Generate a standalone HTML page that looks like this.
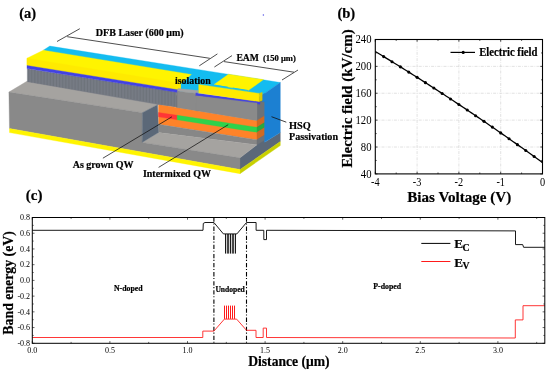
<!DOCTYPE html>
<html><head><meta charset="utf-8"><style>
html,body{margin:0;padding:0;background:#fff;}
svg{display:block;}
text[font-weight="bold"]{stroke:#000;stroke-width:0.2px;}
</style></head><body>
<svg width="550" height="372" viewBox="0 0 550 372" font-family="'Liberation Serif', 'Times New Roman', serif">
<rect width="550" height="372" fill="#fff"/>
<polygon points="49.80,46.10 280.30,82.52 262.30,95.20 200.00,93.00 176.00,91.00 43.30,50.20" fill="#14bcf0" stroke="#14bcf0" stroke-width="0.35" stroke-linejoin="round" />
<polygon points="240.00,157.85 257.00,144.81 257.00,98.00 264.80,93.50 264.80,142.30 280.30,132.50 280.30,141.50 240.00,169.53" fill="#5b6878" stroke="#5b6878" stroke-width="0.35" stroke-linejoin="round" />
<polygon points="240.00,169.53 280.30,141.50 280.30,145.50 240.00,173.63" fill="#c8d000" stroke="#c8d000" stroke-width="0.35" stroke-linejoin="round" />
<polygon points="27.30,81.00 160.00,103.06 157.60,104.70 142.40,112.66 8.90,92.10" fill="#a5a3a0" stroke="#a5a3a0" stroke-width="0.35" stroke-linejoin="round" />
<polygon points="158.50,102.50 176.50,95.43 257.00,100.00 257.00,120.56 158.50,104.50" fill="#8a8a8a" stroke="#8a8a8a" stroke-width="0.35" stroke-linejoin="round" />
<polygon points="158.50,104.50 257.00,120.56 257.00,139.79 158.50,124.33" fill="#ff8329" stroke="#ff8329" stroke-width="0.35" stroke-linejoin="round" />
<polygon points="158.50,112.53 177.20,115.33 177.20,119.77 158.50,116.83" fill="#ff3636" stroke="#ff3636" stroke-width="0.35" stroke-linejoin="round" />
<polygon points="177.20,115.33 257.00,127.30 257.00,132.29 177.20,119.77" fill="#2fd24b" stroke="#2fd24b" stroke-width="0.35" stroke-linejoin="round" />
<polygon points="158.50,124.33 257.00,139.79 257.00,144.81 158.50,132.50" fill="#878787" stroke="#878787" stroke-width="0.35" stroke-linejoin="round" />
<polygon points="257.00,104.50 264.60,99.80 264.60,115.86 257.00,120.56" fill="#6d7277" stroke="#6d7277" stroke-width="0.35" stroke-linejoin="round" />
<polygon points="257.00,120.56 264.60,115.86 264.60,122.60 257.00,127.30" fill="#cf6a22" stroke="#cf6a22" stroke-width="0.35" stroke-linejoin="round" />
<polygon points="257.00,127.30 264.60,122.60 264.60,127.59 257.00,132.29" fill="#27a93e" stroke="#27a93e" stroke-width="0.35" stroke-linejoin="round" />
<polygon points="257.00,132.29 264.60,127.59 264.60,135.09 257.00,139.79" fill="#cf6a22" stroke="#cf6a22" stroke-width="0.35" stroke-linejoin="round" />
<polygon points="257.00,139.79 264.60,135.09 264.60,140.11 257.00,144.81" fill="#6d7277" stroke="#6d7277" stroke-width="0.35" stroke-linejoin="round" />
<polygon points="262.20,95.20 280.30,82.52 280.30,132.50 264.60,142.30 264.60,101.80 262.20,101.80" fill="#1c80d2" stroke="#1c80d2" stroke-width="0.35" stroke-linejoin="round" />
<polygon points="27.30,68.65 176.70,91.95 176.70,106.65 158.50,104.50 27.30,81.70" fill="#767b84" stroke="#767b84" stroke-width="0.35" stroke-linejoin="round" />
<line x1="28.60" y1="68.85" x2="28.60" y2="81.92" stroke="#6c7178" stroke-width="0.8"/>
<line x1="31.70" y1="69.33" x2="31.70" y2="82.43" stroke="#6c7178" stroke-width="0.8"/>
<line x1="34.80" y1="69.82" x2="34.80" y2="82.95" stroke="#6c7178" stroke-width="0.8"/>
<line x1="37.90" y1="70.30" x2="37.90" y2="83.47" stroke="#6c7178" stroke-width="0.8"/>
<line x1="41.00" y1="70.78" x2="41.00" y2="83.99" stroke="#6c7178" stroke-width="0.8"/>
<line x1="44.10" y1="71.27" x2="44.10" y2="84.51" stroke="#6c7178" stroke-width="0.8"/>
<line x1="47.20" y1="71.75" x2="47.20" y2="85.02" stroke="#6c7178" stroke-width="0.8"/>
<line x1="50.30" y1="72.23" x2="50.30" y2="85.54" stroke="#6c7178" stroke-width="0.8"/>
<line x1="53.40" y1="72.72" x2="53.40" y2="86.06" stroke="#6c7178" stroke-width="0.8"/>
<line x1="56.50" y1="73.20" x2="56.50" y2="86.58" stroke="#6c7178" stroke-width="0.8"/>
<line x1="59.60" y1="73.69" x2="59.60" y2="87.09" stroke="#6c7178" stroke-width="0.8"/>
<line x1="62.70" y1="74.17" x2="62.70" y2="87.61" stroke="#6c7178" stroke-width="0.8"/>
<line x1="65.80" y1="74.65" x2="65.80" y2="88.13" stroke="#6c7178" stroke-width="0.8"/>
<line x1="68.90" y1="75.14" x2="68.90" y2="88.65" stroke="#6c7178" stroke-width="0.8"/>
<line x1="72.00" y1="75.62" x2="72.00" y2="89.16" stroke="#6c7178" stroke-width="0.8"/>
<line x1="75.10" y1="76.10" x2="75.10" y2="89.68" stroke="#6c7178" stroke-width="0.8"/>
<line x1="78.20" y1="76.59" x2="78.20" y2="90.20" stroke="#6c7178" stroke-width="0.8"/>
<line x1="81.30" y1="77.07" x2="81.30" y2="90.72" stroke="#6c7178" stroke-width="0.8"/>
<line x1="84.40" y1="77.55" x2="84.40" y2="91.24" stroke="#6c7178" stroke-width="0.8"/>
<line x1="87.50" y1="78.04" x2="87.50" y2="91.75" stroke="#6c7178" stroke-width="0.8"/>
<line x1="90.60" y1="78.52" x2="90.60" y2="92.27" stroke="#6c7178" stroke-width="0.8"/>
<line x1="93.70" y1="79.01" x2="93.70" y2="92.79" stroke="#6c7178" stroke-width="0.8"/>
<line x1="96.80" y1="79.49" x2="96.80" y2="93.31" stroke="#6c7178" stroke-width="0.8"/>
<line x1="99.90" y1="79.97" x2="99.90" y2="93.82" stroke="#6c7178" stroke-width="0.8"/>
<line x1="103.00" y1="80.46" x2="103.00" y2="94.34" stroke="#6c7178" stroke-width="0.8"/>
<line x1="106.10" y1="80.94" x2="106.10" y2="94.86" stroke="#6c7178" stroke-width="0.8"/>
<line x1="109.20" y1="81.42" x2="109.20" y2="95.38" stroke="#6c7178" stroke-width="0.8"/>
<line x1="112.30" y1="81.91" x2="112.30" y2="95.89" stroke="#6c7178" stroke-width="0.8"/>
<line x1="115.40" y1="82.39" x2="115.40" y2="96.41" stroke="#6c7178" stroke-width="0.8"/>
<line x1="118.50" y1="82.87" x2="118.50" y2="96.93" stroke="#6c7178" stroke-width="0.8"/>
<line x1="121.60" y1="83.36" x2="121.60" y2="97.45" stroke="#6c7178" stroke-width="0.8"/>
<line x1="124.70" y1="83.84" x2="124.70" y2="97.97" stroke="#6c7178" stroke-width="0.8"/>
<line x1="127.80" y1="84.32" x2="127.80" y2="98.48" stroke="#6c7178" stroke-width="0.8"/>
<line x1="130.90" y1="84.81" x2="130.90" y2="99.00" stroke="#6c7178" stroke-width="0.8"/>
<line x1="134.00" y1="85.29" x2="134.00" y2="99.52" stroke="#6c7178" stroke-width="0.8"/>
<line x1="137.10" y1="85.78" x2="137.10" y2="100.04" stroke="#6c7178" stroke-width="0.8"/>
<line x1="140.20" y1="86.26" x2="140.20" y2="100.55" stroke="#6c7178" stroke-width="0.8"/>
<line x1="143.30" y1="86.74" x2="143.30" y2="101.07" stroke="#6c7178" stroke-width="0.8"/>
<line x1="146.40" y1="87.23" x2="146.40" y2="101.59" stroke="#6c7178" stroke-width="0.8"/>
<line x1="149.50" y1="87.71" x2="149.50" y2="102.11" stroke="#6c7178" stroke-width="0.8"/>
<line x1="152.60" y1="88.19" x2="152.60" y2="102.63" stroke="#6c7178" stroke-width="0.8"/>
<line x1="155.70" y1="88.68" x2="155.70" y2="103.14" stroke="#6c7178" stroke-width="0.8"/>
<line x1="158.80" y1="89.16" x2="158.80" y2="103.66" stroke="#6c7178" stroke-width="0.8"/>
<line x1="161.90" y1="89.64" x2="161.90" y2="104.18" stroke="#6c7178" stroke-width="0.8"/>
<line x1="165.00" y1="90.13" x2="165.00" y2="104.70" stroke="#6c7178" stroke-width="0.8"/>
<line x1="168.10" y1="90.61" x2="168.10" y2="105.21" stroke="#6c7178" stroke-width="0.8"/>
<line x1="171.20" y1="91.10" x2="171.20" y2="105.73" stroke="#6c7178" stroke-width="0.8"/>
<line x1="174.30" y1="91.58" x2="174.30" y2="106.25" stroke="#6c7178" stroke-width="0.8"/>
<polygon points="176.70,91.95 178.50,90.75 178.50,106.26 176.70,107.47" fill="#6b6f75" stroke="#6b6f75" stroke-width="0.35" stroke-linejoin="round" />
<polygon points="43.30,50.20 191.40,74.49 180.50,84.00 180.50,90.21 27.00,65.50 27.00,58.20" fill="#fff400" stroke="#fff400" stroke-width="0.35" stroke-linejoin="round" />
<polygon points="27.00,58.20 180.50,83.22 180.50,90.21 27.00,65.50" fill="#ffea00" stroke="#ffea00" stroke-width="0.35" stroke-linejoin="round" />
<polygon points="27.00,65.50 180.50,90.21 178.30,92.50 27.00,68.60" fill="#4242e2" stroke="#4242e2" stroke-width="0.35" stroke-linejoin="round" />
<polygon points="178.20,88.50 198.40,90.60 197.40,93.60 177.30,91.30" fill="#a3a3a3" stroke="#a3a3a3" stroke-width="0.35" stroke-linejoin="round" />
<polygon points="177.30,91.30 197.40,93.60 198.50,111.02 177.30,107.56" fill="#8a8a8a" stroke="#8a8a8a" stroke-width="0.35" stroke-linejoin="round" />
<polygon points="228.50,74.20 263.50,79.60 248.20,90.60 214.00,84.60" fill="#fff400" stroke="#fff400" stroke-width="0.35" stroke-linejoin="round" />
<polygon points="195.80,92.90 260.00,101.50 260.00,104.20 195.80,96.00" fill="#4242e2" stroke="#4242e2" stroke-width="0.35" stroke-linejoin="round" />
<polygon points="198.70,84.40 259.20,93.40 259.20,101.60 198.70,92.90" fill="#ffea00" stroke="#ffea00" stroke-width="0.35" stroke-linejoin="round" />
<polygon points="259.20,93.40 262.20,92.20 262.20,100.40 259.20,101.60" fill="#d9ca00" stroke="#d9ca00" stroke-width="0.35" stroke-linejoin="round" />
<line x1="214.50" y1="85.20" x2="227.80" y2="87.30" stroke="#14bcf0" stroke-width="1.0" />
<line x1="232.90" y1="88.10" x2="248.20" y2="90.50" stroke="#14bcf0" stroke-width="1.0" />
<polygon points="195.80,95.80 257.00,103.00 257.00,120.56 195.80,110.58" fill="#8a8a8a" stroke="#8a8a8a" stroke-width="0.35" stroke-linejoin="round" />
<polygon points="142.20,142.40 158.50,132.50 257.00,144.81 240.00,157.85" fill="#a5a3a0" stroke="#a5a3a0" stroke-width="0.35" stroke-linejoin="round" />
<polygon points="8.90,92.10 142.40,112.66 142.20,142.40 240.00,157.85 240.00,169.53 9.50,128.50" fill="#898989" stroke="#898989" stroke-width="0.35" stroke-linejoin="round" />
<polygon points="142.40,112.66 157.60,104.70 158.50,132.50 142.20,142.40" fill="#5b6878" stroke="#5b6878" stroke-width="0.35" stroke-linejoin="round" />
<polygon points="9.50,128.50 240.00,169.53 240.00,173.63 9.50,132.60" fill="#fff400" stroke="#fff400" stroke-width="0.35" stroke-linejoin="round" />
<line x1="57.00" y1="41.50" x2="79.80" y2="28.70" stroke="#222" stroke-width="0.8" />
<line x1="67.20" y1="36.70" x2="209.80" y2="58.30" stroke="#222" stroke-width="0.8" />
<line x1="199.30" y1="65.80" x2="217.40" y2="53.90" stroke="#222" stroke-width="0.8" />
<line x1="214.40" y1="67.00" x2="232.00" y2="55.60" stroke="#222" stroke-width="0.8" />
<line x1="224.00" y1="61.60" x2="294.00" y2="72.20" stroke="#222" stroke-width="0.8" />
<line x1="282.00" y1="80.00" x2="298.00" y2="70.00" stroke="#222" stroke-width="0.8" />
<line x1="171.90" y1="116.80" x2="102.90" y2="158.20" stroke="#111" stroke-width="0.75" />
<line x1="228.20" y1="124.70" x2="158.60" y2="167.40" stroke="#111" stroke-width="0.75" />
<line x1="271.50" y1="116.70" x2="286.30" y2="122.20" stroke="#111" stroke-width="0.8" />
<circle cx="263.4" cy="15.1" r="0.75" fill="#5a5ae6"/>
<g font-family="'Liberation Serif', 'Times New Roman', serif">
<text x="19.20" y="18.20" font-size="14.5" font-weight="bold" text-anchor="start" fill="#000" >(a)</text>
<text x="95.80" y="36.30" font-size="10.05" font-weight="bold" text-anchor="start" fill="#000" >DFB Laser (600 μm)</text>
<text x="236.40" y="61.00" font-size="9.7" font-weight="bold" text-anchor="start" fill="#000" >EAM</text>
<text x="263.00" y="61.00" font-size="8.6" font-weight="bold" text-anchor="start" fill="#000" >(150 μm)</text>
<text x="175.00" y="84.20" font-size="9.9" font-weight="bold" text-anchor="start" fill="#000" >isolation</text>
<text x="289.10" y="129.00" font-size="10.3" font-weight="bold" text-anchor="start" fill="#000" >HSQ</text>
<text x="289.10" y="140.40" font-size="10.15" font-weight="bold" text-anchor="start" fill="#000" >Passivation</text>
<text x="72.70" y="167.80" font-size="10" font-weight="bold" text-anchor="start" fill="#000" >As grown QW</text>
<text x="142.90" y="176.70" font-size="10" font-weight="bold" text-anchor="start" fill="#000" >Intermixed QW</text>
</g>
<line x1="417.10" y1="39.50" x2="417.10" y2="173.90" stroke="#cfcfcf" stroke-width="0.6" stroke-dasharray="3,1.2,0.8,1.2"/>
<line x1="458.90" y1="39.50" x2="458.90" y2="173.90" stroke="#cfcfcf" stroke-width="0.6" stroke-dasharray="3,1.2,0.8,1.2"/>
<line x1="500.70" y1="39.50" x2="500.70" y2="173.90" stroke="#cfcfcf" stroke-width="0.6" stroke-dasharray="3,1.2,0.8,1.2"/>
<line x1="375.30" y1="147.02" x2="542.50" y2="147.02" stroke="#cfcfcf" stroke-width="0.6" stroke-dasharray="3,1.2,0.8,1.2"/>
<line x1="375.30" y1="120.14" x2="542.50" y2="120.14" stroke="#cfcfcf" stroke-width="0.6" stroke-dasharray="3,1.2,0.8,1.2"/>
<line x1="375.30" y1="93.26" x2="542.50" y2="93.26" stroke="#cfcfcf" stroke-width="0.6" stroke-dasharray="3,1.2,0.8,1.2"/>
<line x1="375.30" y1="66.38" x2="542.50" y2="66.38" stroke="#cfcfcf" stroke-width="0.6" stroke-dasharray="3,1.2,0.8,1.2"/>
<polyline points="375.30,51.52 377.39,52.78 379.48,54.04 381.57,55.31 383.66,56.58 385.75,57.85 387.84,59.13 389.93,60.41 392.02,61.69 394.11,62.98 396.20,64.27 398.29,65.56 400.38,66.86 402.47,68.16 404.56,69.46 406.65,70.77 408.74,72.08 410.83,73.39 412.92,74.71 415.01,76.03 417.10,77.35 419.19,78.67 421.28,80.00 423.37,81.34 425.46,82.67 427.55,84.01 429.64,85.35 431.73,86.70 433.82,88.04 435.91,89.40 438.00,90.75 440.09,92.11 442.18,93.47 444.27,94.83 446.36,96.20 448.45,97.57 450.54,98.95 452.63,100.32 454.72,101.70 456.81,103.09 458.90,104.48 460.99,105.87 463.08,107.26 465.17,108.66 467.26,110.06 469.35,111.46 471.44,112.87 473.53,114.28 475.62,115.69 477.71,117.10 479.80,118.52 481.89,119.95 483.98,121.37 486.07,122.80 488.16,124.23 490.25,125.67 492.34,127.11 494.43,128.55 496.52,130.00 498.61,131.44 500.70,132.90 502.79,134.35 504.88,135.81 506.97,137.27 509.06,138.74 511.15,140.20 513.24,141.67 515.33,143.15 517.42,144.63 519.51,146.11 521.60,147.59 523.69,149.08 525.78,150.57 527.87,152.06 529.96,153.56 532.05,155.06 534.14,156.56 536.23,158.07 538.32,159.58 540.41,161.09 542.50,162.61" fill="none" stroke="#000" stroke-width="1.3"/>
<circle cx="383.66" cy="56.58" r="1.55" fill="#000"/>
<circle cx="392.02" cy="61.69" r="1.55" fill="#000"/>
<circle cx="400.38" cy="66.86" r="1.55" fill="#000"/>
<circle cx="408.74" cy="72.08" r="1.55" fill="#000"/>
<circle cx="417.10" cy="77.35" r="1.55" fill="#000"/>
<circle cx="425.46" cy="82.67" r="1.55" fill="#000"/>
<circle cx="433.82" cy="88.04" r="1.55" fill="#000"/>
<circle cx="442.18" cy="93.47" r="1.55" fill="#000"/>
<circle cx="450.54" cy="98.95" r="1.55" fill="#000"/>
<circle cx="458.90" cy="104.48" r="1.55" fill="#000"/>
<circle cx="467.26" cy="110.06" r="1.55" fill="#000"/>
<circle cx="475.62" cy="115.69" r="1.55" fill="#000"/>
<circle cx="483.98" cy="121.37" r="1.55" fill="#000"/>
<circle cx="492.34" cy="127.11" r="1.55" fill="#000"/>
<circle cx="500.70" cy="132.90" r="1.55" fill="#000"/>
<circle cx="509.06" cy="138.74" r="1.55" fill="#000"/>
<circle cx="517.42" cy="144.63" r="1.55" fill="#000"/>
<circle cx="525.78" cy="150.57" r="1.55" fill="#000"/>
<circle cx="534.14" cy="156.56" r="1.55" fill="#000"/>
<line x1="375.30" y1="173.90" x2="375.30" y2="171.70" stroke="#000" stroke-width="0.7" />
<line x1="375.30" y1="39.50" x2="375.30" y2="41.70" stroke="#000" stroke-width="0.7" />
<line x1="396.20" y1="173.90" x2="396.20" y2="172.50" stroke="#000" stroke-width="0.7" />
<line x1="396.20" y1="39.50" x2="396.20" y2="40.90" stroke="#000" stroke-width="0.7" />
<line x1="417.10" y1="173.90" x2="417.10" y2="171.70" stroke="#000" stroke-width="0.7" />
<line x1="417.10" y1="39.50" x2="417.10" y2="41.70" stroke="#000" stroke-width="0.7" />
<line x1="438.00" y1="173.90" x2="438.00" y2="172.50" stroke="#000" stroke-width="0.7" />
<line x1="438.00" y1="39.50" x2="438.00" y2="40.90" stroke="#000" stroke-width="0.7" />
<line x1="458.90" y1="173.90" x2="458.90" y2="171.70" stroke="#000" stroke-width="0.7" />
<line x1="458.90" y1="39.50" x2="458.90" y2="41.70" stroke="#000" stroke-width="0.7" />
<line x1="479.80" y1="173.90" x2="479.80" y2="172.50" stroke="#000" stroke-width="0.7" />
<line x1="479.80" y1="39.50" x2="479.80" y2="40.90" stroke="#000" stroke-width="0.7" />
<line x1="500.70" y1="173.90" x2="500.70" y2="171.70" stroke="#000" stroke-width="0.7" />
<line x1="500.70" y1="39.50" x2="500.70" y2="41.70" stroke="#000" stroke-width="0.7" />
<line x1="521.60" y1="173.90" x2="521.60" y2="172.50" stroke="#000" stroke-width="0.7" />
<line x1="521.60" y1="39.50" x2="521.60" y2="40.90" stroke="#000" stroke-width="0.7" />
<line x1="542.50" y1="173.90" x2="542.50" y2="171.70" stroke="#000" stroke-width="0.7" />
<line x1="542.50" y1="39.50" x2="542.50" y2="41.70" stroke="#000" stroke-width="0.7" />
<line x1="375.30" y1="173.90" x2="377.50" y2="173.90" stroke="#000" stroke-width="0.7" />
<line x1="542.50" y1="173.90" x2="540.30" y2="173.90" stroke="#000" stroke-width="0.7" />
<line x1="375.30" y1="160.46" x2="376.70" y2="160.46" stroke="#000" stroke-width="0.7" />
<line x1="542.50" y1="160.46" x2="541.10" y2="160.46" stroke="#000" stroke-width="0.7" />
<line x1="375.30" y1="147.02" x2="377.50" y2="147.02" stroke="#000" stroke-width="0.7" />
<line x1="542.50" y1="147.02" x2="540.30" y2="147.02" stroke="#000" stroke-width="0.7" />
<line x1="375.30" y1="133.58" x2="376.70" y2="133.58" stroke="#000" stroke-width="0.7" />
<line x1="542.50" y1="133.58" x2="541.10" y2="133.58" stroke="#000" stroke-width="0.7" />
<line x1="375.30" y1="120.14" x2="377.50" y2="120.14" stroke="#000" stroke-width="0.7" />
<line x1="542.50" y1="120.14" x2="540.30" y2="120.14" stroke="#000" stroke-width="0.7" />
<line x1="375.30" y1="106.70" x2="376.70" y2="106.70" stroke="#000" stroke-width="0.7" />
<line x1="542.50" y1="106.70" x2="541.10" y2="106.70" stroke="#000" stroke-width="0.7" />
<line x1="375.30" y1="93.26" x2="377.50" y2="93.26" stroke="#000" stroke-width="0.7" />
<line x1="542.50" y1="93.26" x2="540.30" y2="93.26" stroke="#000" stroke-width="0.7" />
<line x1="375.30" y1="79.82" x2="376.70" y2="79.82" stroke="#000" stroke-width="0.7" />
<line x1="542.50" y1="79.82" x2="541.10" y2="79.82" stroke="#000" stroke-width="0.7" />
<line x1="375.30" y1="66.38" x2="377.50" y2="66.38" stroke="#000" stroke-width="0.7" />
<line x1="542.50" y1="66.38" x2="540.30" y2="66.38" stroke="#000" stroke-width="0.7" />
<line x1="375.30" y1="52.94" x2="376.70" y2="52.94" stroke="#000" stroke-width="0.7" />
<line x1="542.50" y1="52.94" x2="541.10" y2="52.94" stroke="#000" stroke-width="0.7" />
<line x1="375.30" y1="39.50" x2="377.50" y2="39.50" stroke="#000" stroke-width="0.7" />
<line x1="542.50" y1="39.50" x2="540.30" y2="39.50" stroke="#000" stroke-width="0.7" />
<rect x="375.3" y="39.5" width="167.2" height="134.4" fill="none" stroke="#000" stroke-width="1.1"/>
<line x1="450.50" y1="52.40" x2="475.00" y2="52.40" stroke="#000" stroke-width="1.2" />
<circle cx="463.2" cy="52.4" r="1.55" fill="#000"/>
<g font-family="'Liberation Serif', 'Times New Roman', serif">
<text x="479.20" y="56.00" font-size="11.9" font-weight="bold" text-anchor="start" fill="#000" textLength="58.3" lengthAdjust="spacingAndGlyphs">Electric field</text>
<text x="375.30" y="186.30" font-size="12.0" font-weight="normal" text-anchor="middle" fill="#000" textLength="8.58" lengthAdjust="spacingAndGlyphs">-4</text>
<text x="417.10" y="186.30" font-size="12.0" font-weight="normal" text-anchor="middle" fill="#000" textLength="8.58" lengthAdjust="spacingAndGlyphs">-3</text>
<text x="458.90" y="186.30" font-size="12.0" font-weight="normal" text-anchor="middle" fill="#000" textLength="8.58" lengthAdjust="spacingAndGlyphs">-2</text>
<text x="500.70" y="186.30" font-size="12.0" font-weight="normal" text-anchor="middle" fill="#000" textLength="8.58" lengthAdjust="spacingAndGlyphs">-1</text>
<text x="542.50" y="186.30" font-size="12.0" font-weight="normal" text-anchor="middle" fill="#000" textLength="5.15" lengthAdjust="spacingAndGlyphs">0</text>
<text x="371.50" y="177.80" font-size="12.4" font-weight="normal" text-anchor="end" fill="#000" textLength="10.70" lengthAdjust="spacingAndGlyphs">40</text>
<text x="371.50" y="150.92" font-size="12.4" font-weight="normal" text-anchor="end" fill="#000" textLength="10.70" lengthAdjust="spacingAndGlyphs">80</text>
<text x="371.50" y="124.04" font-size="12.4" font-weight="normal" text-anchor="end" fill="#000" textLength="16.05" lengthAdjust="spacingAndGlyphs">120</text>
<text x="371.50" y="97.16" font-size="12.4" font-weight="normal" text-anchor="end" fill="#000" textLength="16.05" lengthAdjust="spacingAndGlyphs">160</text>
<text x="371.50" y="70.28" font-size="12.4" font-weight="normal" text-anchor="end" fill="#000" textLength="16.05" lengthAdjust="spacingAndGlyphs">200</text>
<text x="371.50" y="43.40" font-size="12.4" font-weight="normal" text-anchor="end" fill="#000" textLength="16.05" lengthAdjust="spacingAndGlyphs">240</text>
<text x="407.30" y="202.20" font-size="15.1" font-weight="bold" text-anchor="start" fill="#000" >Bias Voltage (V)</text>
<text transform="translate(352.2,98.5) rotate(-90)" font-size="15" font-weight="bold" text-anchor="middle">Electric field (kV/cm)</text>
<text x="337.40" y="18.30" font-size="14.6" font-weight="bold" text-anchor="start" fill="#000" >(b)</text>
</g>
<line x1="213.90" y1="217.50" x2="213.90" y2="343.30" stroke="#000" stroke-width="1.1" stroke-dasharray="4.3,1.6,1.1,2.1"/>
<line x1="246.50" y1="217.50" x2="246.50" y2="343.30" stroke="#000" stroke-width="1.1" stroke-dasharray="4.3,1.6,1.1,2.1"/>
<polyline points="32.30,230.30 203.00,230.30 203.30,223.40 205.00,222.50 213.90,222.50 223.40,233.90 236.90,233.90 246.50,222.50 256.10,222.50 256.10,230.30 263.80,230.30 263.80,239.60 266.50,239.60 266.50,230.30 515.50,230.90 515.50,244.60 522.70,244.60 523.60,247.30 544.80,247.30" fill="none" stroke="#000" stroke-width="0.9"/>
<line x1="225.50" y1="234.00" x2="225.50" y2="253.60" stroke="#000" stroke-width="0.9" />
<line x1="227.30" y1="234.00" x2="227.30" y2="253.60" stroke="#000" stroke-width="0.9" />
<line x1="228.70" y1="234.00" x2="228.70" y2="253.60" stroke="#000" stroke-width="0.9" />
<line x1="230.50" y1="234.00" x2="230.50" y2="253.60" stroke="#000" stroke-width="0.9" />
<line x1="232.30" y1="234.00" x2="232.30" y2="253.60" stroke="#000" stroke-width="0.9" />
<line x1="233.70" y1="234.00" x2="233.70" y2="253.60" stroke="#000" stroke-width="0.9" />
<line x1="235.50" y1="234.00" x2="235.50" y2="253.60" stroke="#000" stroke-width="0.9" />
<polyline points="32.30,337.50 202.80,337.50 202.80,331.10 213.90,331.10 224.40,319.10 236.60,319.10 246.50,330.30 256.00,330.30 256.00,337.50 263.20,337.50 263.20,328.10 266.50,328.10 266.50,337.50 515.30,338.00 515.30,319.90 523.00,319.90 523.00,305.70 544.80,305.70" fill="none" stroke="#ff2020" stroke-width="0.9"/>
<line x1="224.50" y1="305.60" x2="224.50" y2="318.90" stroke="#ff1a1a" stroke-width="1.0" />
<line x1="226.50" y1="305.60" x2="226.50" y2="318.90" stroke="#ff1a1a" stroke-width="1.0" />
<line x1="228.50" y1="305.60" x2="228.50" y2="318.90" stroke="#ff1a1a" stroke-width="1.0" />
<line x1="230.50" y1="305.60" x2="230.50" y2="318.90" stroke="#ff1a1a" stroke-width="1.0" />
<line x1="232.50" y1="305.60" x2="232.50" y2="318.90" stroke="#ff1a1a" stroke-width="1.0" />
<line x1="234.50" y1="305.60" x2="234.50" y2="318.90" stroke="#ff1a1a" stroke-width="1.0" />
<line x1="32.30" y1="343.30" x2="32.30" y2="341.10" stroke="#000" stroke-width="0.6" />
<line x1="32.30" y1="217.50" x2="32.30" y2="219.70" stroke="#000" stroke-width="0.6" />
<line x1="71.10" y1="343.30" x2="71.10" y2="341.90" stroke="#000" stroke-width="0.6" />
<line x1="71.10" y1="217.50" x2="71.10" y2="218.90" stroke="#000" stroke-width="0.6" />
<line x1="109.90" y1="343.30" x2="109.90" y2="341.10" stroke="#000" stroke-width="0.6" />
<line x1="109.90" y1="217.50" x2="109.90" y2="219.70" stroke="#000" stroke-width="0.6" />
<line x1="148.70" y1="343.30" x2="148.70" y2="341.90" stroke="#000" stroke-width="0.6" />
<line x1="148.70" y1="217.50" x2="148.70" y2="218.90" stroke="#000" stroke-width="0.6" />
<line x1="187.50" y1="343.30" x2="187.50" y2="341.10" stroke="#000" stroke-width="0.6" />
<line x1="187.50" y1="217.50" x2="187.50" y2="219.70" stroke="#000" stroke-width="0.6" />
<line x1="226.30" y1="343.30" x2="226.30" y2="341.90" stroke="#000" stroke-width="0.6" />
<line x1="226.30" y1="217.50" x2="226.30" y2="218.90" stroke="#000" stroke-width="0.6" />
<line x1="265.10" y1="343.30" x2="265.10" y2="341.10" stroke="#000" stroke-width="0.6" />
<line x1="265.10" y1="217.50" x2="265.10" y2="219.70" stroke="#000" stroke-width="0.6" />
<line x1="303.90" y1="343.30" x2="303.90" y2="341.90" stroke="#000" stroke-width="0.6" />
<line x1="303.90" y1="217.50" x2="303.90" y2="218.90" stroke="#000" stroke-width="0.6" />
<line x1="342.70" y1="343.30" x2="342.70" y2="341.10" stroke="#000" stroke-width="0.6" />
<line x1="342.70" y1="217.50" x2="342.70" y2="219.70" stroke="#000" stroke-width="0.6" />
<line x1="381.50" y1="343.30" x2="381.50" y2="341.90" stroke="#000" stroke-width="0.6" />
<line x1="381.50" y1="217.50" x2="381.50" y2="218.90" stroke="#000" stroke-width="0.6" />
<line x1="420.30" y1="343.30" x2="420.30" y2="341.10" stroke="#000" stroke-width="0.6" />
<line x1="420.30" y1="217.50" x2="420.30" y2="219.70" stroke="#000" stroke-width="0.6" />
<line x1="459.10" y1="343.30" x2="459.10" y2="341.90" stroke="#000" stroke-width="0.6" />
<line x1="459.10" y1="217.50" x2="459.10" y2="218.90" stroke="#000" stroke-width="0.6" />
<line x1="497.90" y1="343.30" x2="497.90" y2="341.10" stroke="#000" stroke-width="0.6" />
<line x1="497.90" y1="217.50" x2="497.90" y2="219.70" stroke="#000" stroke-width="0.6" />
<line x1="536.70" y1="343.30" x2="536.70" y2="341.90" stroke="#000" stroke-width="0.6" />
<line x1="536.70" y1="217.50" x2="536.70" y2="218.90" stroke="#000" stroke-width="0.6" />
<line x1="32.30" y1="343.30" x2="34.50" y2="343.30" stroke="#000" stroke-width="0.6" />
<line x1="544.80" y1="343.30" x2="542.60" y2="343.30" stroke="#000" stroke-width="0.6" />
<line x1="32.30" y1="335.44" x2="33.70" y2="335.44" stroke="#000" stroke-width="0.6" />
<line x1="544.80" y1="335.44" x2="543.40" y2="335.44" stroke="#000" stroke-width="0.6" />
<line x1="32.30" y1="327.57" x2="34.50" y2="327.57" stroke="#000" stroke-width="0.6" />
<line x1="544.80" y1="327.57" x2="542.60" y2="327.57" stroke="#000" stroke-width="0.6" />
<line x1="32.30" y1="319.71" x2="33.70" y2="319.71" stroke="#000" stroke-width="0.6" />
<line x1="544.80" y1="319.71" x2="543.40" y2="319.71" stroke="#000" stroke-width="0.6" />
<line x1="32.30" y1="311.85" x2="34.50" y2="311.85" stroke="#000" stroke-width="0.6" />
<line x1="544.80" y1="311.85" x2="542.60" y2="311.85" stroke="#000" stroke-width="0.6" />
<line x1="32.30" y1="303.99" x2="33.70" y2="303.99" stroke="#000" stroke-width="0.6" />
<line x1="544.80" y1="303.99" x2="543.40" y2="303.99" stroke="#000" stroke-width="0.6" />
<line x1="32.30" y1="296.12" x2="34.50" y2="296.12" stroke="#000" stroke-width="0.6" />
<line x1="544.80" y1="296.12" x2="542.60" y2="296.12" stroke="#000" stroke-width="0.6" />
<line x1="32.30" y1="288.26" x2="33.70" y2="288.26" stroke="#000" stroke-width="0.6" />
<line x1="544.80" y1="288.26" x2="543.40" y2="288.26" stroke="#000" stroke-width="0.6" />
<line x1="32.30" y1="280.40" x2="34.50" y2="280.40" stroke="#000" stroke-width="0.6" />
<line x1="544.80" y1="280.40" x2="542.60" y2="280.40" stroke="#000" stroke-width="0.6" />
<line x1="32.30" y1="272.54" x2="33.70" y2="272.54" stroke="#000" stroke-width="0.6" />
<line x1="544.80" y1="272.54" x2="543.40" y2="272.54" stroke="#000" stroke-width="0.6" />
<line x1="32.30" y1="264.68" x2="34.50" y2="264.68" stroke="#000" stroke-width="0.6" />
<line x1="544.80" y1="264.68" x2="542.60" y2="264.68" stroke="#000" stroke-width="0.6" />
<line x1="32.30" y1="256.81" x2="33.70" y2="256.81" stroke="#000" stroke-width="0.6" />
<line x1="544.80" y1="256.81" x2="543.40" y2="256.81" stroke="#000" stroke-width="0.6" />
<line x1="32.30" y1="248.95" x2="34.50" y2="248.95" stroke="#000" stroke-width="0.6" />
<line x1="544.80" y1="248.95" x2="542.60" y2="248.95" stroke="#000" stroke-width="0.6" />
<line x1="32.30" y1="241.09" x2="33.70" y2="241.09" stroke="#000" stroke-width="0.6" />
<line x1="544.80" y1="241.09" x2="543.40" y2="241.09" stroke="#000" stroke-width="0.6" />
<line x1="32.30" y1="233.22" x2="34.50" y2="233.22" stroke="#000" stroke-width="0.6" />
<line x1="544.80" y1="233.22" x2="542.60" y2="233.22" stroke="#000" stroke-width="0.6" />
<line x1="32.30" y1="225.36" x2="33.70" y2="225.36" stroke="#000" stroke-width="0.6" />
<line x1="544.80" y1="225.36" x2="543.40" y2="225.36" stroke="#000" stroke-width="0.6" />
<line x1="32.30" y1="217.50" x2="34.50" y2="217.50" stroke="#000" stroke-width="0.6" />
<line x1="544.80" y1="217.50" x2="542.60" y2="217.50" stroke="#000" stroke-width="0.6" />
<rect x="32.3" y="217.5" width="512.5" height="125.80000000000001" fill="none" stroke="#000" stroke-width="1"/>
<line x1="421.30" y1="243.40" x2="450.40" y2="243.40" stroke="#000" stroke-width="1.0" />
<line x1="421.30" y1="261.50" x2="450.40" y2="261.50" stroke="#ff1a1a" stroke-width="1.0" />
<g font-family="'Liberation Serif', 'Times New Roman', serif">
<text x="454.2" y="248.3" font-size="13.3" font-weight="bold">E<tspan font-size="9.8" dx="-0.7" dy="3.0">C</tspan></text>
<text x="454.2" y="266.6" font-size="13.3" font-weight="bold">E<tspan font-size="9.8" dx="-0.7" dy="2.8">V</tspan></text>
<text x="32.30" y="352.50" font-size="8" font-weight="normal" text-anchor="middle" fill="#000" >0.0</text>
<text x="109.90" y="352.50" font-size="8" font-weight="normal" text-anchor="middle" fill="#000" >0.5</text>
<text x="187.50" y="352.50" font-size="8" font-weight="normal" text-anchor="middle" fill="#000" >1.0</text>
<text x="265.10" y="352.50" font-size="8" font-weight="normal" text-anchor="middle" fill="#000" >1.5</text>
<text x="342.70" y="352.50" font-size="8" font-weight="normal" text-anchor="middle" fill="#000" >2.0</text>
<text x="420.30" y="352.50" font-size="8" font-weight="normal" text-anchor="middle" fill="#000" >2.5</text>
<text x="497.90" y="352.50" font-size="8" font-weight="normal" text-anchor="middle" fill="#000" >3.0</text>
<text x="30.10" y="346.00" font-size="8" font-weight="normal" text-anchor="end" fill="#000" >-0.8</text>
<text x="30.10" y="330.27" font-size="8" font-weight="normal" text-anchor="end" fill="#000" >-0.6</text>
<text x="30.10" y="314.55" font-size="8" font-weight="normal" text-anchor="end" fill="#000" >-0.4</text>
<text x="30.10" y="298.82" font-size="8" font-weight="normal" text-anchor="end" fill="#000" >-0.2</text>
<text x="30.10" y="283.10" font-size="8" font-weight="normal" text-anchor="end" fill="#000" >0.0</text>
<text x="30.10" y="267.38" font-size="8" font-weight="normal" text-anchor="end" fill="#000" >0.2</text>
<text x="30.10" y="251.65" font-size="8" font-weight="normal" text-anchor="end" fill="#000" >0.4</text>
<text x="30.10" y="235.92" font-size="8" font-weight="normal" text-anchor="end" fill="#000" >0.6</text>
<text x="30.10" y="220.20" font-size="8" font-weight="normal" text-anchor="end" fill="#000" >0.8</text>
<text x="113.90" y="290.70" font-size="7.6" font-weight="bold" text-anchor="start" fill="#000" textLength="28.7" lengthAdjust="spacingAndGlyphs">N-doped</text>
<text x="215.40" y="292.10" font-size="7.2" font-weight="bold" text-anchor="start" fill="#000" textLength="29.4" lengthAdjust="spacingAndGlyphs">Undoped</text>
<text x="373.30" y="288.70" font-size="7.5" font-weight="bold" text-anchor="start" fill="#000" textLength="27.9" lengthAdjust="spacingAndGlyphs">P-doped</text>
<text x="288.90" y="366.10" font-size="13.6" font-weight="bold" text-anchor="middle" fill="#000" >Distance (μm)</text>
<text transform="translate(13.1,282.90) rotate(-90)" font-size="13.8" font-weight="bold" text-anchor="middle">Band energy (eV)</text>
<text x="25.80" y="199.70" font-size="15" font-weight="bold" text-anchor="start" fill="#000" >(c)</text>
</g>
</svg>
</body></html>
